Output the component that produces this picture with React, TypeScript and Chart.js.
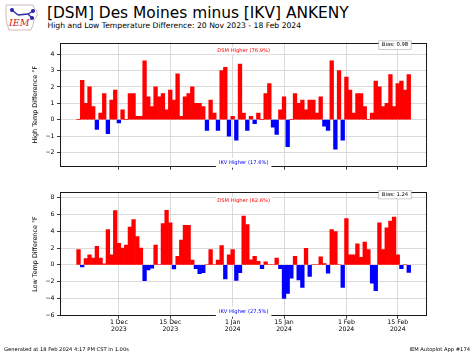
import React, { useEffect, useRef } from "react";
import { Chart, registerables } from "chart.js";

Chart.register(...registerables);

// ---------------- data ----------------
// day offsets are counted from 1 Dec 2023; first day is 20 Nov 2023
const firstDay = -11;

const highNov = [0, 2.4, 1.0, 2.0, 0.8, -0.6, 0.4, 1.6, -0.85, 1.2, 1.8];
const highDec = [-0.2, 0.6, 0, 1.6, 1.6, 0.2, 0.2, 3.6, 1.4, 0.8, 2.0, 1.4, 1.6, 0.6, 1.8, 1.2, 2.8, 0.2, 1.4, 1.6, 2.0, 1.0, 1.0, 0.8, -0.65, 1.2, 0.4, -0.65, 3.0, 3.2, -1.0];
const highJan = [0.2, -1.25, 3.4, 0.4, -0.65, 0.2, -0.25, 0.4, 0, 1.6, 2.2, -0.45, -0.9, 0.6, 1.4, -1.65, 0, 1.6, 1.0, 1.2, 0.6, 1.2, 1.2, 0.4, 1.4, -0.4, -0.65, 3.6, -1.8, 3.0, -1.25];
const highFeb = [2.6, 1.8, 0.4, 1.6, 1.6, 0.8, 0, 0.4, 2.35, 2.0, 0.8, 1.0, 2.75, 0.8, 2.2, 2.35, 1.8, 2.75];

const lowNov = [1.8, -0.25, 0.75, 1.2, 0.8, 2.2, 0.8, 0.1, 4.2, 1.2, 6.45];
const lowDec = [2.55, 2.0, 2.35, 4.5, 5.4, 3.35, 2.0, -1.9, -0.6, -0.4, 2.35, 0, 4.9, 6.5, 5.0, -0.5, 1.0, 2.95, 4.7, 4.7, 0.55, -0.45, -1.05, -0.95, 0, 1.8, 0, 0.55, 2.3, -1.7, 1.2];
const lowJan = [1.8, -1.85, -0.95, 5.8, 4.8, 0.6, 1.0, 0.4, -0.45, 0.35, 0, 0, 0.8, -0.45, -4.0, -3.4, -1.6, 1.0, -1.8, -2.7, 1.95, -1.4, 0, 0, 0.95, 0.15, -1.0, 4.2, 3.95, 0, -2.7];
const lowFeb = [5.5, 1.2, 1.2, 2.5, 0.9, 2.7, 1.8, -2.2, -3.1, 5.0, 1.8, 4.4, 5.2, 5.7, 1.2, -0.45, 0, -0.9];

const xTickDays = [0, 14, 31, 45, 62, 76];
const xTickLabels = [
  ["1 Dec", "2023"],
  ["15 Dec", "2023"],
  ["1 Jan", "2024"],
  ["15 Jan", "2024"],
  ["1 Feb", "2024"],
  ["15 Feb", "2024"],
];
const highTicks = [-2, -1, 0, 1, 2, 3, 4];
const lowTicks = [-6, -4, -2, 0, 2, 4, 6, 8];

const highDsmPct = "76.9";
const highIkvPct = "17.6";
const highBias = "0.98";
const lowDsmPct = "62.6";
const lowIkvPct = "27.5";
const lowBias = "1.24";

const titleText = "[DSM] Des Moines minus [IKV] ANKENY";
const subtitleText = "High and Low Temperature Difference: 20 Nov 2023 - 18 Feb 2024";
const footerLeft = "Generated at 18 Feb 2024 4:17 PM CST in 1.00s";
const footerRight = "IEM Autoplot App #174";

// ---------------- chart helpers ----------------
const FONT = "DejaVu Sans";
const RED = "#ff0000";
const BLUE = "#0000ff";

const fmtNum = (v: number) => (v < 0 ? "\u2212" + Math.abs(v) : String(v));

const framePlugin = {
  id: "frameAnno",
  afterDatasetsDraw(chart: any) {
    const { ctx, chartArea: a } = chart;
    ctx.save();
    ctx.strokeStyle = "#1a1a1a";
    ctx.lineWidth = 1;
    const l = Math.round(a.left) + 0.5;
    const t = Math.round(a.top) + 0.5;
    const r = Math.round(a.right) - 0.5;
    const b = Math.round(a.bottom) - 0.5;
    ctx.strokeRect(l, t, r - l, b - t);
    ctx.restore();
  },
  afterDraw(chart: any, _args: any, opts: any) {
    const { ctx, chartArea: a } = chart;
    const cx = (a.left + a.right) / 2;
    ctx.save();
    ctx.font = `5.2px "${FONT}"`;
    ctx.textBaseline = "middle";

    const boxed = (text: string, x: number, y: number, color: string, align: "center" | "left", padX: number, padY: number, border: boolean) => {
      const w = ctx.measureText(text).width;
      const left = align === "center" ? x - w / 2 : x;
      ctx.fillStyle = "#ffffff";
      ctx.fillRect(left - padX, y - 3 - padY, w + 2 * padX, 6 + 2 * padY);
      if (border) {
        ctx.strokeStyle = "#aaaaaa";
        ctx.lineWidth = 0.6;
        ctx.strokeRect(left - padX, y - 3 - padY, w + 2 * padX, 6 + 2 * padY);
      }
      ctx.fillStyle = color;
      ctx.textAlign = "left";
      ctx.fillText(text, left, y);
    };

    boxed(opts.dsm, cx, a.top + 8, RED, "center", 1.5, 0.5, false);
    boxed(opts.ikv, cx, a.bottom - 4, BLUE, "center", 3, 2, false);
    ctx.font = `5.3px "${FONT}"`;
    boxed(opts.bias, a.right - 45.5, a.top + 2.4, "#000000", "left", 3, 1.2, true);
    ctx.restore();
  },
};

function makeConfig(
  values: number[],
  yMin: number,
  yMax: number,
  yTicks: number[],
  yTitle: string,
  showX: boolean,
  padTop: number,
  xHeight: number,
  anno: { dsm: string; ikv: string; bias: string }
) {
  const data = values.map((v, i) => ({ x: firstDay + i, y: v }));
  const gridColor = "#d6d6d6";
  return {
    type: "bar",
    data: {
      datasets: [
        {
          data,
          backgroundColor: values.map((v) => (v >= 0 ? RED : BLUE)),
          borderWidth: 0,
          barPercentage: 1,
          categoryPercentage: 1,
        },
      ],
    },
    options: {
      animation: false,
      responsive: false,
      devicePixelRatio: 1,
      layout: { padding: { left: 28, right: 46.7, top: padTop, bottom: 0 } },
      plugins: {
        legend: { display: false },
        tooltip: { enabled: false },
        title: { display: false },
        frameAnno: anno,
      },
      scales: {
        x: {
          type: "linear",
          min: -16.05,
          max: 84.05,
          offset: false,
          border: { display: false },
          grid: {
            offset: false,
            color: gridColor,
            lineWidth: 0.9,
            drawTicks: true,
            tickLength: 3,
            tickColor: "#222222",
          },
          ticks: {
            display: showX,
            autoSkip: false,
            maxRotation: 0,
            padding: 0,
            color: "#000000",
            font: { family: FONT, size: 6.2, lineHeight: 1.2 },
            callback: (v: number) => {
              const i = xTickDays.indexOf(v);
              return i >= 0 ? xTickLabels[i] : "";
            },
          },
          afterBuildTicks: (axis: any) => {
            axis.ticks = xTickDays.map((v) => ({ value: v }));
          },
          afterFit: (axis: any) => {
            axis.height = xHeight;
          },
        },
        y: {
          type: "linear",
          min: yMin,
          max: yMax,
          border: { display: false },
          grid: {
            color: gridColor,
            lineWidth: 0.9,
            drawTicks: true,
            tickLength: 3,
            tickColor: "#222222",
          },
          ticks: {
            padding: 2.5,
            color: "#000000",
            font: { family: FONT, size: 6.2 },
            callback: (v: number) => fmtNum(v),
          },
          title: {
            display: true,
            text: yTitle,
            color: "#000000",
            font: { family: FONT, size: 6.4 },
          },
          afterBuildTicks: (axis: any) => {
            axis.ticks = yTicks.map((v) => ({ value: v }));
          },
          afterFit: (axis: any) => {
            axis.width = 32;
          },
        },
      },
    },
    plugins: [framePlugin],
  } as any;
}

function Panel(props: { config: any; top: number; height: number }) {
  const ref = useRef<HTMLCanvasElement | null>(null);
  useEffect(() => {
    if (!ref.current) return;
    const chart = new Chart(ref.current, props.config);
    return () => chart.destroy();
  }, []);
  return (
    <canvas
      ref={ref}
      width={474}
      height={props.height}
      style={{ position: "absolute", left: 0, top: props.top, width: 474, height: props.height }}
    />
  );
}

function Logo() {
  return (
    <svg width={36} height={32} viewBox="0 0 36 32" style={{ position: "absolute", left: 4, top: 2 }}>
      <path
        d="M2 3 L29 3 L30 6 L33 9 L33 14 L30 18 L29 23 L27 28 L5 28 L3 22 L2 15 Z"
        fill="#ffffff"
        stroke="#c8a8a8"
        strokeWidth={0.8}
      />
      <g stroke="#2a2aa8" strokeWidth={1.3} fill="#2a2aa8">
        <line x1={8} y1={8} x2={14} y2={13} />
        <line x1={14} y1={13} x2={24} y2={12} />
        <line x1={24} y1={12} x2={29} y2={9} />
        <line x1={24} y1={12} x2={28} y2={16} />
        <circle cx={8} cy={8} r={1.4} />
        <circle cx={29} cy={9} r={1.4} />
        <circle cx={28} cy={16} r={1.4} />
      </g>
      <text x={5} y={24} fontFamily="DejaVu Serif" fontStyle="italic" fontSize={9.5} fill="#d02020">
        IEM
      </text>
    </svg>
  );
}

const highValues = [...highNov, ...highDec, ...highJan, ...highFeb];
const lowValues = [...lowNov, ...lowDec, ...lowJan, ...lowFeb];

export default function App() {
  const topConfig = makeConfig(
    highValues,
    -2.87,
    4.7,
    highTicks,
    "High Temp Difference \u00b0F",
    false,
    7.7,
    8.3,
    { dsm: `DSM Higher (${highDsmPct}%)`, ikv: `IKV Higher (${highIkvPct}%)`, bias: `Bias: ${highBias}` }
  );
  const bottomConfig = makeConfig(
    lowValues,
    -6.07,
    8.64,
    lowTicks,
    "Low Temp Difference \u00b0F",
    true,
    12.3,
    39.3,
    { dsm: `DSM Higher (${lowDsmPct}%)`, ikv: `IKV Higher (${lowIkvPct}%)`, bias: `Bias: ${lowBias}` }
  );

  return (
    <div
      style={{
        position: "fixed",
        left: 0,
        top: 0,
        width: 474,
        height: 355,
        background: "#ffffff",
        overflow: "hidden",
        fontFamily: FONT,
      }}
    >
      <Panel config={topConfig} top={35} height={140} />
      <Panel config={bottomConfig} top={180} height={175} />
      <Logo />
      <div style={{ position: "absolute", left: 47, top: 6, fontSize: 15.4, lineHeight: "15.4px", whiteSpace: "nowrap", color: "#000" }}>
        {titleText}
      </div>
      <div style={{ position: "absolute", left: 47.5, top: 22.2, fontSize: 7.65, lineHeight: "7.65px", whiteSpace: "nowrap", color: "#000" }}>
        {subtitleText}
      </div>
      <div style={{ position: "absolute", left: 4, top: 347.1, fontSize: 5.2, lineHeight: "5.2px", whiteSpace: "nowrap", color: "#000" }}>
        {footerLeft}
      </div>
      <div style={{ position: "absolute", right: 4, top: 347.1, fontSize: 5.2, lineHeight: "5.2px", whiteSpace: "nowrap", color: "#000" }}>
        {footerRight}
      </div>
    </div>
  );
}
